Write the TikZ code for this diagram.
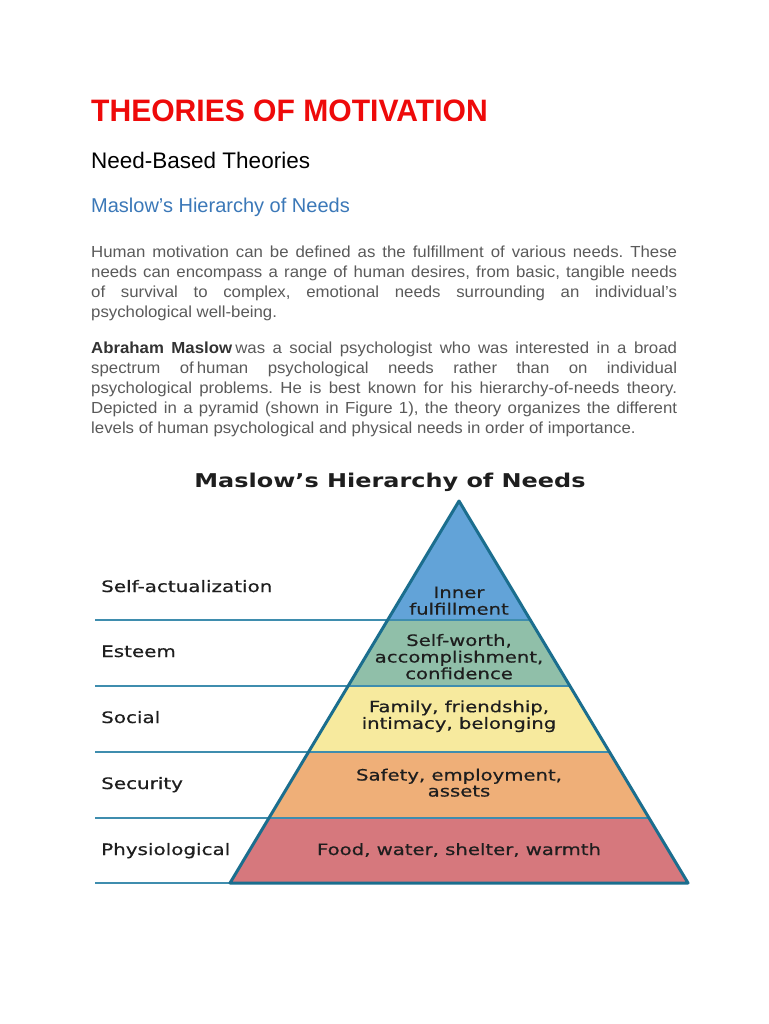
\documentclass[tikz,border=0pt]{standalone}
\usepackage{fontspec}
\setmainfont{Liberation Sans}
\newfontfamily\dejavu[FakeBold=0.5]{DejaVu Sans}
\newfontfamily\dejavubold{DejaVu Sans Bold}
\definecolor{titlered}{HTML}{EE0A0A}
\definecolor{headblue}{HTML}{3B78B8}
\definecolor{bodygray}{HTML}{5A5A5A}
\definecolor{boldgray}{HTML}{333333}
\definecolor{figtext}{HTML}{1E1E1E}
\definecolor{outline}{HTML}{1B6E8E}
\definecolor{rule}{HTML}{3F8DAE}
\definecolor{lvlA}{HTML}{62A3D8}
\definecolor{lvlB}{HTML}{90BFA9}
\definecolor{lvlC}{HTML}{F7EA9E}
\definecolor{lvlD}{HTML}{EFAF78}
\definecolor{lvlE}{HTML}{D6787D}
\frenchspacing
\newcommand{\jl}[1]{\scalebox{1.05}[1]{\makebox[558pt][s]{#1}}}
\newcommand{\nl}[1]{\scalebox{1.05}[1]{#1}}
\newcommand{\fx}[1]{\scalebox{1.26}[1]{#1}}
\newcommand{\fxx}[1]{\scalebox{1.26}[1]{\begin{tabular}{@{}c@{}}#1\end{tabular}}}
\begin{document}
\begin{tikzpicture}[x=1pt,y=-1pt,
  body/.style={anchor=base west, inner sep=0, text=bodygray, font=\fontsize{16}{20}\selectfont},
  lvlabel/.style={anchor=base west, inner sep=0, text=figtext, font=\dejavu\fontsize{15.8}{16}\selectfont},
  lvtext/.style={anchor=center, inner sep=0, text=figtext, font=\dejavu\fontsize{15.6}{16}\selectfont},
  sep/.style={draw=rule, line width=1.4pt},
  rim/.style={draw=outline, line width=3pt, line join=round}]
\useasboundingbox (0,0) rectangle (768,1024);
\fill[white] (0,0) rectangle (768,1024);

% headings
\node[anchor=base west, inner sep=0, text=titlered, font=\fontsize{31}{31}\selectfont\bfseries] (title) at (91,122) {\scalebox{0.97}[1]{THEORIES OF MOTIVATION}};
\node[anchor=base west, inner sep=0, text=black, font=\fontsize{22.5}{24}\selectfont] (sub) at (91,169) {Need-Based Theories};
\node[anchor=base west, inner sep=0, text=headblue, font=\fontsize{20}{22}\selectfont] (mh) at (91,213) {Maslow’s Hierarchy of Needs};

% paragraph 1
\node[body] (p1a) at (91,257) {\jl{Human motivation can be defined as the fulfillment of various needs. These}};
\node[body] (p1b) at (91,277) {\jl{needs can encompass a range of human desires, from basic, tangible needs}};
\node[body] (p1c) at (91,297) {\jl{of survival to complex, emotional needs surrounding an individual’s}};
\node[body] (p1d) at (91,317) {\nl{psychological well-being.}};

% paragraph 2
\node[body] (p2a) at (91,353) {\jl{\textcolor{boldgray}{\bfseries Abraham\ Maslow}\kern3pt was a social psychologist who was interested in a broad}};
\node[body] (p2b) at (91,373) {\jl{spectrum of\kern3pt human psychological needs rather than on individual}};
\node[body] (p2c) at (91,393) {\jl{psychological problems. He is best known for his hierarchy-of-needs theory.}};
\node[body] (p2d) at (91,413) {\jl{Depicted in a pyramid (shown in Figure 1), the theory organizes the different}};
\node[body] (p2e) at (91,433) {\nl{levels of human psychological and physical needs in order of importance.}};

% figure title
\node[anchor=base, inner sep=0, text=figtext, font=\dejavubold\fontsize{19}{20}\selectfont] (ftitle) at (390,487) {\fx{Maslow’s Hierarchy of Needs}};

% pyramid corners
\coordinate (apex) at (459,501);
\coordinate (bl) at (230,883);
\coordinate (br) at (688,883);

\begin{scope}
  \clip (apex) -- (bl) -- (br) -- cycle;
  \fill[lvlA] (0,480) rectangle (768,620);
  \fill[lvlB] (0,620) rectangle (768,686);
  \fill[lvlC] (0,686) rectangle (768,752);
  \fill[lvlD] (0,752) rectangle (768,818);
  \fill[lvlE] (0,818) rectangle (768,890);
\end{scope}

% level rules
\coordinate (r1) at (95,620);
\coordinate (r2) at (95,686);
\coordinate (r3) at (95,752);
\coordinate (r4) at (95,818);
\coordinate (r5) at (95,883);
\coordinate (e1) at (531,620);
\coordinate (e2) at (570,686);
\coordinate (e3) at (610,752);
\coordinate (e4) at (649,818);
\draw[sep] (r1) -- (e1);
\draw[sep] (r2) -- (e2);
\draw[sep] (r3) -- (e3);
\draw[sep] (r4) -- (e4);
\draw[sep] (r5) -- (bl);

\draw[rim] (apex) -- (bl) -- (br) -- cycle;

% level labels
\node[lvlabel] (l1) at (101,592) {\fx{Self-actualization}};
\node[lvlabel] (l2) at (101,657) {\fx{Esteem}};
\node[lvlabel] (l3) at (101,723) {\fx{Social}};
\node[lvlabel] (l4) at (101,789) {\fx{Security}};
\node[lvlabel] (l5) at (101,855) {\fx{Physiological}};

% level texts
\node[lvtext] (t1) at (459,603) {\fxx{Inner\\fulfillment}};
\node[lvtext] (t2) at (459,659) {\fxx{Self-worth,\\accomplishment,\\confidence}};
\node[lvtext] (t3) at (459,717) {\fxx{Family, friendship,\\intimacy, belonging}};
\node[lvtext] (t4) at (459,785) {\fxx{Safety, employment,\\assets}};
\node[lvtext,anchor=base] (t5) at (459,855) {\fx{Food, water, shelter, warmth}};
\end{tikzpicture}
\end{document}
